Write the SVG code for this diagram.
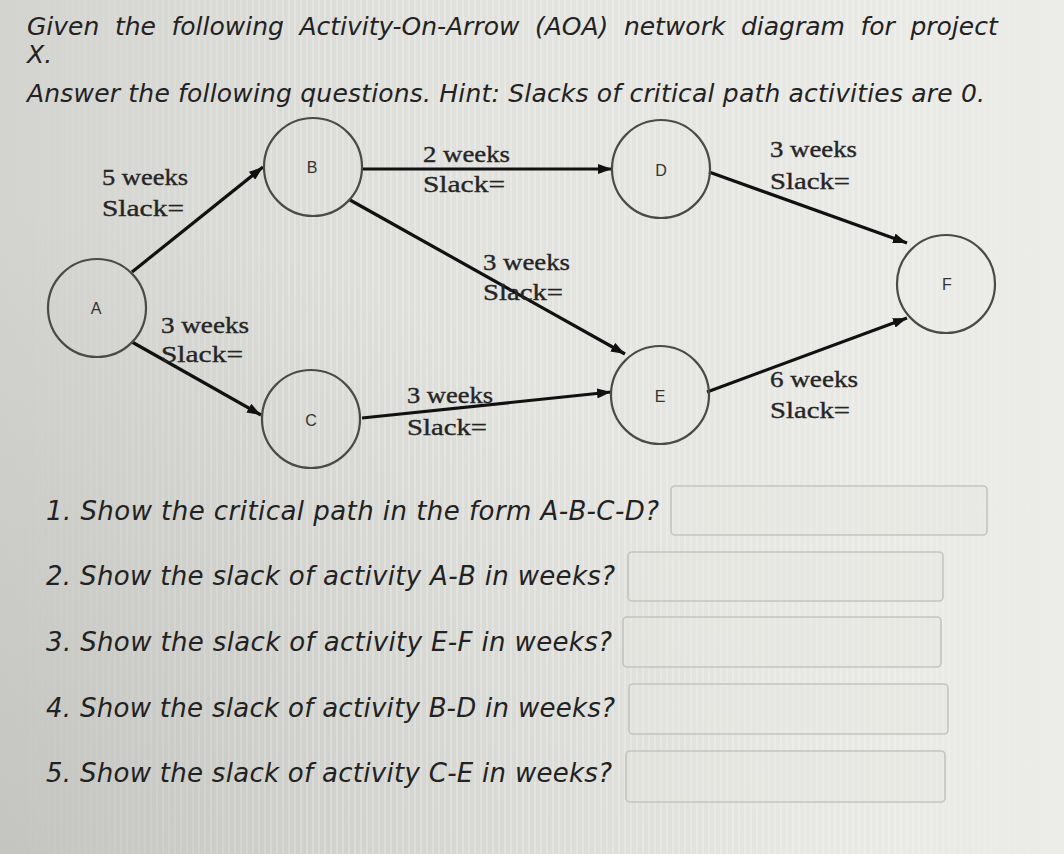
<svg xmlns="http://www.w3.org/2000/svg" width="1064" height="854" viewBox="0 0 1064 854">
  <defs>
    <linearGradient id="bg" x1="0" y1="0" x2="1" y2="0">
      <stop offset="0" stop-color="#d3d3cf"/>
      <stop offset="0.45" stop-color="#e1e1dd"/>
      <stop offset="1" stop-color="#ecece9"/>
    </linearGradient>
    <radialGradient id="shade" cx="0" cy="1" r="0.75">
      <stop offset="0" stop-color="#b8b8b4" stop-opacity="0.55"/>
      <stop offset="1" stop-color="#b8b8b4" stop-opacity="0"/>
    </radialGradient>
    <pattern id="stripes" width="6" height="10" patternUnits="userSpaceOnUse">
      <rect x="0" y="0" width="2" height="10" fill="#ffffff" fill-opacity="0.22"/>
    </pattern>
    <linearGradient id="stripeFade" x1="0" y1="0" x2="1" y2="0">
      <stop offset="0" stop-color="#fff" stop-opacity="0"/>
      <stop offset="0.3" stop-color="#fff" stop-opacity="1"/>
      <stop offset="0.85" stop-color="#fff" stop-opacity="1"/>
      <stop offset="1" stop-color="#fff" stop-opacity="0"/>
    </linearGradient>
    <mask id="stripeMask">
      <rect x="0" y="0" width="1064" height="854" fill="url(#stripeFade)"/>
    </mask>
    <marker id="arrow" viewBox="0 0 14 10" refX="14" refY="5" markerWidth="14" markerHeight="10" markerUnits="userSpaceOnUse" orient="auto">
      <path d="M0,0 L14,5 L0,10 Z" fill="#111"/>
    </marker>
    <style>
      .title { font-family: "DejaVu Sans", Verdana, sans-serif; font-style: italic; font-size: 25px; fill: #222; }
      .q { font-family: "DejaVu Sans", Verdana, sans-serif; font-style: italic; font-size: 26px; fill: #222; }
      .node circle { fill: none; stroke: #4a4a48; stroke-width: 2.2; }
      .node text { font-family: "Liberation Sans", Arial, sans-serif; font-size: 16px; fill: #333; text-anchor: middle; }
      .edge { stroke: #111; stroke-width: 3.2; fill: none; marker-end: url(#arrow); }
      .lbl { font-family: "Liberation Serif", "Times New Roman", serif; font-size: 23px; fill: #252525; stroke: #252525; stroke-width: 0.35; }
      .box { fill: #e6e6e2; fill-opacity: 0.4; stroke: #c4c4c0; stroke-width: 1.6; }
    </style>
  </defs>

  <rect x="0" y="0" width="1064" height="854" fill="url(#bg)"/>
  <rect x="0" y="0" width="1064" height="854" fill="url(#shade)"/>
  <rect x="0" y="0" width="1064" height="854" fill="url(#stripes)" mask="url(#stripeMask)"/>

  <g id="title">
    <text class="title" x="27" y="35" word-spacing="7.6">Given the following Activity-On-Arrow (AOA) network diagram for project</text>
    <text class="title" x="27" y="63">X.</text>
    <text class="title" x="27" y="102" textLength="958" lengthAdjust="spacing">Answer the following questions. Hint: Slacks of critical path activities are 0.</text>
  </g>

  <g id="connectors">
    <g id="edge-A-B">
      <line class="edge" x1="132" y1="272" x2="263" y2="167"/>
      <text class="lbl" x="102" y="185" textLength="86" lengthAdjust="spacingAndGlyphs">5 weeks</text>
      <text class="lbl" x="102" y="216" textLength="82" lengthAdjust="spacingAndGlyphs">Slack=</text>
    </g>
    <g id="edge-A-C">
      <line class="edge" x1="132" y1="342" x2="261" y2="415"/>
      <text class="lbl" x="161" y="333" textLength="88" lengthAdjust="spacingAndGlyphs">3 weeks</text>
      <text class="lbl" x="161" y="362" textLength="82" lengthAdjust="spacingAndGlyphs">Slack=</text>
    </g>
    <g id="edge-B-D">
      <line class="edge" x1="362" y1="169" x2="612" y2="169"/>
      <text class="lbl" x="423" y="162" textLength="87" lengthAdjust="spacingAndGlyphs">2 weeks</text>
      <text class="lbl" x="423" y="192" textLength="82" lengthAdjust="spacingAndGlyphs">Slack=</text>
    </g>
    <g id="edge-B-E">
      <line class="edge" x1="350" y1="200" x2="625" y2="354"/>
      <text class="lbl" x="483" y="270" textLength="87" lengthAdjust="spacingAndGlyphs">3 weeks</text>
      <text class="lbl" x="483" y="300" textLength="80" lengthAdjust="spacingAndGlyphs">Slack=</text>
    </g>
    <g id="edge-C-E">
      <line class="edge" x1="362" y1="418" x2="611" y2="392"/>
      <text class="lbl" x="407" y="403" textLength="86" lengthAdjust="spacingAndGlyphs">3 weeks</text>
      <text class="lbl" x="407" y="435" textLength="80" lengthAdjust="spacingAndGlyphs">Slack=</text>
    </g>
    <g id="edge-D-F">
      <line class="edge" x1="709" y1="172" x2="907" y2="243"/>
      <text class="lbl" x="770" y="157" textLength="87" lengthAdjust="spacingAndGlyphs">3 weeks</text>
      <text class="lbl" x="770" y="189" textLength="80" lengthAdjust="spacingAndGlyphs">Slack=</text>
    </g>
    <g id="edge-E-F">
      <line class="edge" x1="707" y1="392" x2="907" y2="318"/>
      <text class="lbl" x="770" y="387" textLength="88" lengthAdjust="spacingAndGlyphs">6 weeks</text>
      <text class="lbl" x="770" y="418" textLength="80" lengthAdjust="spacingAndGlyphs">Slack=</text>
    </g>
  </g>

  <g id="node-A" class="node"><circle cx="97" cy="308" r="49"/><text x="96" y="314">A</text></g>
  <g id="node-B" class="node"><circle cx="313" cy="167" r="49"/><text x="312" y="173">B</text></g>
  <g id="node-C" class="node"><circle cx="311" cy="419" r="49"/><text x="311" y="426">C</text></g>
  <g id="node-D" class="node"><circle cx="661" cy="169" r="49"/><text x="661" y="176">D</text></g>
  <g id="node-E" class="node"><circle cx="660" cy="395" r="49"/><text x="660" y="402">E</text></g>
  <g id="node-F" class="node"><circle cx="946" cy="284" r="49"/><text x="947" y="290">F</text></g>

  <g id="questions">
    <text class="q" x="46" y="520" textLength="613" lengthAdjust="spacing">1. Show the critical path in the form A-B-C-D?</text>
    <text class="q" x="46" y="585" textLength="569" lengthAdjust="spacing">2. Show the slack of activity A-B in weeks?</text>
    <text class="q" x="46" y="651" textLength="566" lengthAdjust="spacing">3. Show the slack of activity E-F in weeks?</text>
    <text class="q" x="46" y="717" textLength="569" lengthAdjust="spacing">4. Show the slack of activity B-D in weeks?</text>
    <text class="q" x="46" y="782" textLength="566" lengthAdjust="spacing">5. Show the slack of activity C-E in weeks?</text>
  </g>

  <g id="answer-boxes">
    <rect class="box" x="671" y="486" width="316" height="49" rx="4"/>
    <rect class="box" x="628" y="552" width="315" height="49" rx="4"/>
    <rect class="box" x="623" y="617" width="318" height="50" rx="4"/>
    <rect class="box" x="629" y="684" width="319" height="50" rx="4"/>
    <rect class="box" x="626" y="751" width="319" height="51" rx="4"/>
  </g>
</svg>
